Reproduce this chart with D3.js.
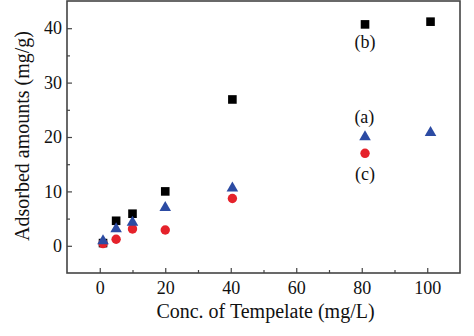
<!DOCTYPE html>
<html><head><meta charset="utf-8">
<script src="https://cdn.jsdelivr.net/npm/d3@7"></script>
<style>body{margin:0;background:#fff}svg{display:block}</style>
</head><body>
<svg id="c" width="474" height="336"></svg>
<script>
const xTicks = [0, 20, 40, 60, 80, 100];
const yTicks = [0, 10, 20, 30, 40];
const seriesB_x = [1, 5, 10, 20, 40.5, 81, 101];
const seriesB_y = [0.5, 4.6, 5.9, 10.0, 26.9, 40.7, 41.2];
const seriesA_x = [1, 5, 10, 20, 40.5, 81, 101];
const seriesA_y = [0.9, 3.1, 4.3, 7.0, 10.6, 20.0, 20.8];
const seriesC_x = [1, 5, 10, 20, 40.5, 81];
const seriesC_y = [0.4, 1.2, 3.1, 2.9, 8.7, 17.0];
const labels = [{t:"(b)", x:81, y:37.5}, {t:"(a)", x:80.8, y:23.7}, {t:"(c)", x:81, y:13.2}];

const svg = d3.select("#c");
const L = 67, R = 460, T = 1, B = 273;
const x = d3.scaleLinear().domain([-10, 110]).range([L, R]);
const y = d3.scaleLinear().domain([-5, 45]).range([B, T]);
const font = "'Liberation Serif','Times New Roman',serif";
const axCol = "#444";
const txt = "#111";

svg.append("rect").attr("x", L).attr("y", T).attr("width", R-L).attr("height", B-T)
  .attr("fill","none").attr("stroke", axCol).attr("stroke-width", 1.6);

const xAxis = d3.axisBottom(x).tickValues(xTicks).tickSize(-5).tickPadding(8).tickFormat(d3.format("d"));
const gx = svg.append("g").attr("transform", `translate(0,${B})`).call(xAxis);
gx.select(".domain").remove();
gx.selectAll(".tick line").attr("stroke", axCol).attr("stroke-width", 1.2);
gx.selectAll("text").attr("font-family", font).attr("font-size", 18).attr("fill", txt);
const gxm = svg.append("g").attr("transform", `translate(0,${B})`)
  .call(d3.axisBottom(x).tickValues([10,30,50,70,90]).tickSize(-3).tickFormat(""));
gxm.select(".domain").remove();
gxm.selectAll(".tick line").attr("stroke", axCol).attr("stroke-width", 1.2);

const yAxis = d3.axisLeft(y).tickValues(yTicks).tickSize(-5).tickPadding(5).tickFormat(d3.format("d"));
const gy = svg.append("g").attr("transform", `translate(${L},0)`).call(yAxis);
gy.select(".domain").remove();
gy.selectAll(".tick line").attr("stroke", axCol).attr("stroke-width", 1.2);
gy.selectAll("text").attr("font-family", font).attr("font-size", 18).attr("fill", txt);
const gym = svg.append("g").attr("transform", `translate(${L},0)`)
  .call(d3.axisLeft(y).tickValues([5,15,25,35]).tickSize(-3).tickFormat(""));
gym.select(".domain").remove();
gym.selectAll(".tick line").attr("stroke", axCol).attr("stroke-width", 1.2);

svg.append("text").attr("x", (L+R)/2 + 2).attr("y", 318).attr("text-anchor","middle")
  .attr("font-family", font).attr("font-size", 20).attr("fill", txt).text("Conc. of Tempelate (mg/L)");
svg.append("text").attr("transform", `translate(29,${136}) rotate(-90)`).attr("text-anchor","middle")
  .attr("font-family", font).attr("font-size", 20).attr("fill", txt).text("Adsorbed amounts (mg/g)");

const sq = 8.6;
svg.append("g").selectAll("rect").data(seriesB_x.map((v,i)=>[v, seriesB_y[i]])).join("rect")
  .attr("x", d=>x(d[0])-sq/2).attr("y", d=>y(d[1])-sq/2).attr("width", sq).attr("height", sq).attr("fill","#000");
svg.append("g").selectAll("circle").data(seriesC_x.map((v,i)=>[v, seriesC_y[i]])).join("circle")
  .attr("cx", d=>x(d[0])).attr("cy", d=>y(d[1])).attr("r", 4.7).attr("fill","#e5222b");
const tri = d3.symbol().type(d3.symbolTriangle).size(58);
svg.append("g").selectAll("path").data(seriesA_x.map((v,i)=>[v, seriesA_y[i]])).join("path")
  .attr("d", tri).attr("transform", d=>`translate(${x(d[0])},${y(d[1])})`).attr("fill","#2c4ba3");

svg.append("g").selectAll("text").data(labels).join("text")
  .attr("x", d=>x(d.x)).attr("y", d=>y(d.y)).attr("text-anchor","middle").attr("dominant-baseline","central")
  .attr("font-family", font).attr("font-size", 18).attr("fill", txt).text(d=>d.t);
</script>
</body></html>
